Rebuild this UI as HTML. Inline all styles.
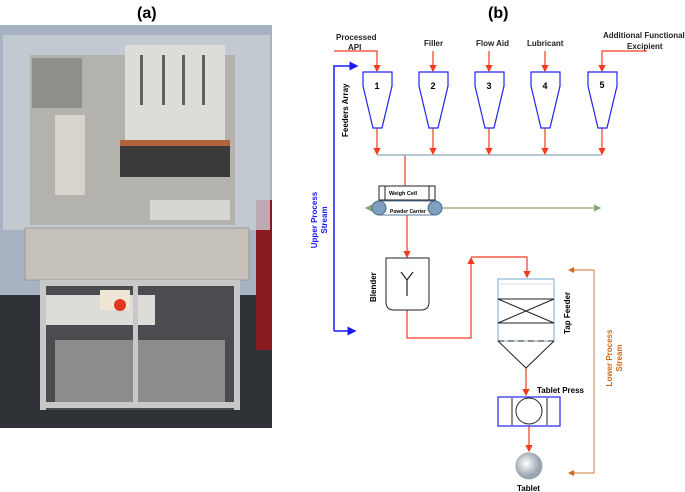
<!DOCTYPE html>
<html><head><meta charset="utf-8"><style>
body{margin:0;background:#fff;}
svg{display:block;}
text{font-family:"Liberation Sans",sans-serif;}
</style></head><body>
<svg width="685" height="492" viewBox="0 0 685 492" xmlns="http://www.w3.org/2000/svg">
<defs>
<marker id="r" markerWidth="6" markerHeight="6" refX="5" refY="3" orient="auto"><path d="M0,0L6,3L0,6z" fill="#f03c1e"/></marker>
<marker id="b" markerWidth="6" markerHeight="6" refX="5" refY="3" orient="auto"><path d="M0,0L6,3L0,6z" fill="#1a1aff"/></marker>
<marker id="o" markerWidth="6" markerHeight="6" refX="5" refY="3" orient="auto"><path d="M0,0L6,3L0,6z" fill="#d2691e"/></marker>
<marker id="g" markerWidth="6" markerHeight="6" refX="5" refY="3" orient="auto-start-reverse"><path d="M0,0L6,3L0,6z" fill="#8aa878"/></marker>
<radialGradient id="tg" cx="40%" cy="40%"><stop offset="0" stop-color="#fff"/><stop offset="1" stop-color="#9aa4ae"/></radialGradient>
</defs>
<text x="137" y="18" font-family="Liberation Serif" font-weight="bold" font-size="16">(a)</text>
<text x="488" y="18" font-family="Liberation Serif" font-weight="bold" font-size="16">(b)</text>
<!-- photo -->
<rect x="0" y="25" width="272" height="403" fill="#a7b3c2"/>
<rect x="0" y="295" width="272" height="133" fill="#2f3236"/>
<rect x="256" y="200" width="16" height="150" fill="#8a1a22"/>
<rect x="3" y="35" width="267" height="195" fill="#c9ced4" opacity="0.8"/>
<rect x="30" y="55" width="205" height="170" fill="#b4b2ac"/>
<rect x="32" y="58" width="50" height="50" fill="#8e8e8a"/>
<rect x="55" y="115" width="30" height="80" fill="#d8d4cc"/>
<rect x="125" y="45" width="100" height="95" fill="#dcdcd8"/>
<g fill="#606060"><rect x="140" y="55" width="3" height="50"/><rect x="162" y="55" width="3" height="50"/><rect x="182" y="55" width="3" height="50"/><rect x="202" y="55" width="3" height="50"/></g>
<rect x="120" y="142" width="110" height="35" fill="#3a3a3a"/>
<rect x="120" y="140" width="110" height="6" fill="#b0643c"/>
<rect x="150" y="200" width="80" height="20" fill="#d6d6d2"/>
<rect x="25" y="228" width="224" height="52" fill="#c5c1b9" stroke="#9a9a98"/>
<rect x="40" y="280" width="200" height="130" fill="#4a4c50"/>
<rect x="40" y="280" width="200" height="6" fill="#c8c8c8"/>
<rect x="45" y="295" width="110" height="30" fill="#dedcd8"/>
<rect x="55" y="340" width="170" height="62" fill="#8c8c8c"/>
<rect x="40" y="280" width="6" height="130" fill="#c8c8c8"/>
<rect x="234" y="280" width="6" height="130" fill="#c8c8c8"/>
<rect x="133" y="285" width="5" height="120" fill="#c8c8c8"/>
<rect x="40" y="402" width="200" height="6" fill="#c8c8c8"/>
<rect x="100" y="290" width="30" height="20" fill="#efe6d6"/>
<circle cx="120" cy="305" r="6" fill="#e23a1e"/>
<!-- diagram -->
<g font-size="8" font-weight="bold" fill="#222">
<text x="336" y="40">Processed</text><text x="348" y="50">API</text>
<text x="424" y="46">Filler</text>
<text x="476" y="46">Flow Aid</text>
<text x="527" y="46">Lubricant</text>
<text x="603" y="38">Additional Functional</text>
<text x="627" y="49">Excipient</text>
</g>
<g fill="none" stroke="#f03c1e" stroke-width="1.2">
<path d="M334 51H377V71" marker-end="url(#r)"/>
<path d="M433 51V71" marker-end="url(#r)"/>
<path d="M489 51V71" marker-end="url(#r)"/>
<path d="M545 51V71" marker-end="url(#r)"/>
<path d="M647 51H602V71" marker-end="url(#r)"/>
<path d="M377 128V154" marker-end="url(#r)"/><path d="M433 128V154" marker-end="url(#r)"/><path d="M489 128V154" marker-end="url(#r)"/><path d="M545 128V154" marker-end="url(#r)"/><path d="M602 128V154" marker-end="url(#r)"/>
<path d="M405 155V199" marker-end="url(#r)"/>
<path d="M407 214V257" marker-end="url(#r)"/>
<path d="M407 310V338H471V258" marker-end="url(#r)"/>
<path d="M471 257H527V277" marker-end="url(#r)"/>
<path d="M526 368V395" marker-end="url(#r)"/>
<path d="M529 426V451" marker-end="url(#r)"/>
</g>
<g fill="#fff" stroke="#2222ee" stroke-width="1.2">
<path d="M363 72H392V86L382 128H373L363 86Z"/>
<path d="M419 72H448V86L438 128H429L419 86Z"/>
<path d="M475 72H504V86L494 128H485L475 86Z"/>
<path d="M531 72H560V86L550 128H541L531 86Z"/>
<path d="M588 72H617V86L607 128H598L588 86Z"/>
</g>
<g font-size="9" font-weight="bold" text-anchor="middle"><text x="377" y="89">1</text><text x="433" y="89">2</text><text x="489" y="89">3</text><text x="545" y="89">4</text><text x="602" y="88">5</text></g>
<line x1="377" y1="155" x2="602" y2="155" stroke="#8aa8b8" stroke-width="1.2"/>
<text transform="translate(348,137) rotate(-90)" font-size="8" font-weight="bold">Feeders  Array</text>
<path d="M334 331V66H357" fill="none" stroke="#1a1aff" stroke-width="1.5" marker-end="url(#b)"/>
<path d="M334 331H355" fill="none" stroke="#1a1aff" stroke-width="1.5" marker-end="url(#b)"/>
<g transform="translate(312,265) rotate(-90)" font-size="8" font-weight="bold" fill="#1a1aff" text-anchor="middle"><text x="45" y="5">Upper Process</text><text x="45" y="15">Stream</text></g>
<line x1="366" y1="208" x2="600" y2="208" stroke="#8aa878" stroke-width="1.2" marker-start="url(#g)" marker-end="url(#g)"/>
<rect x="379" y="186" width="56" height="14" fill="#fff" stroke="#222"/>
<line x1="385" y1="186" x2="385" y2="200" stroke="#222"/><line x1="429" y1="186" x2="429" y2="200" stroke="#222"/>
<text x="389" y="195" font-size="5.5" font-weight="bold">Weigh Cell</text>
<rect x="378" y="201" width="58" height="14" fill="#fff" stroke="#5a7a9a"/>
<circle cx="379" cy="208" r="7" fill="#7fa0bc" stroke="#4a6a8a"/>
<circle cx="435" cy="208" r="7" fill="#7fa0bc" stroke="#4a6a8a"/>
<text x="390" y="213" font-size="5" font-weight="bold">Powder Carrier</text>
<path d="M386 258H429V302Q429 310 421 310H394Q386 310 386 302Z" fill="#fff" stroke="#222"/>
<path d="M401 272L407 280L413 272M407 280V296" fill="none" stroke="#222" stroke-width="1.2"/>
<text transform="translate(376,302) rotate(-90)" font-size="8" font-weight="bold">Blender</text>
<rect x="498" y="279" width="56" height="62" fill="#fff" stroke="#7aaad0"/>
<g stroke="#222" fill="none"><line x1="498" y1="299" x2="554" y2="299"/><line x1="498" y1="323" x2="554" y2="323"/><line x1="498" y1="299" x2="554" y2="323"/><line x1="498" y1="323" x2="554" y2="299"/>
<line x1="498" y1="341" x2="554" y2="341" stroke-dasharray="6,4"/>
<path d="M498 341L526 368L554 341"/></g>
<line x1="498" y1="284" x2="554" y2="284" stroke="#dde"/>
<text transform="translate(570,334) rotate(-90)" font-size="8" font-weight="bold">Tap Feeder</text>
<text x="537" y="393" font-size="8" font-weight="bold">Tablet Press</text>
<rect x="498" y="397" width="62" height="29" fill="#fff" stroke="#2222ee" stroke-width="1.2"/>
<line x1="512" y1="398" x2="512" y2="425" stroke="#222"/><line x1="547" y1="398" x2="547" y2="425" stroke="#222"/>
<circle cx="529" cy="411" r="13" fill="#fff" stroke="#222"/>
<circle cx="529" cy="466" r="13" fill="url(#tg)" stroke="#9aa"/>
<text x="517" y="491" font-size="8" font-weight="bold">Tablet</text>
<path d="M570 270H594V473H570" fill="none" stroke="#d99060" stroke-width="1.2"/>
<path d="M575 270H569" stroke="#d2691e" marker-end="url(#o)"/>
<path d="M575 473H569" stroke="#d2691e" marker-end="url(#o)"/>
<g transform="translate(608,358) rotate(-90)" font-size="8" font-weight="bold" fill="#d2691e" text-anchor="middle"><text x="0" y="4">Lower Process</text><text x="0" y="14">Stream</text></g>
</svg>
</body></html>
